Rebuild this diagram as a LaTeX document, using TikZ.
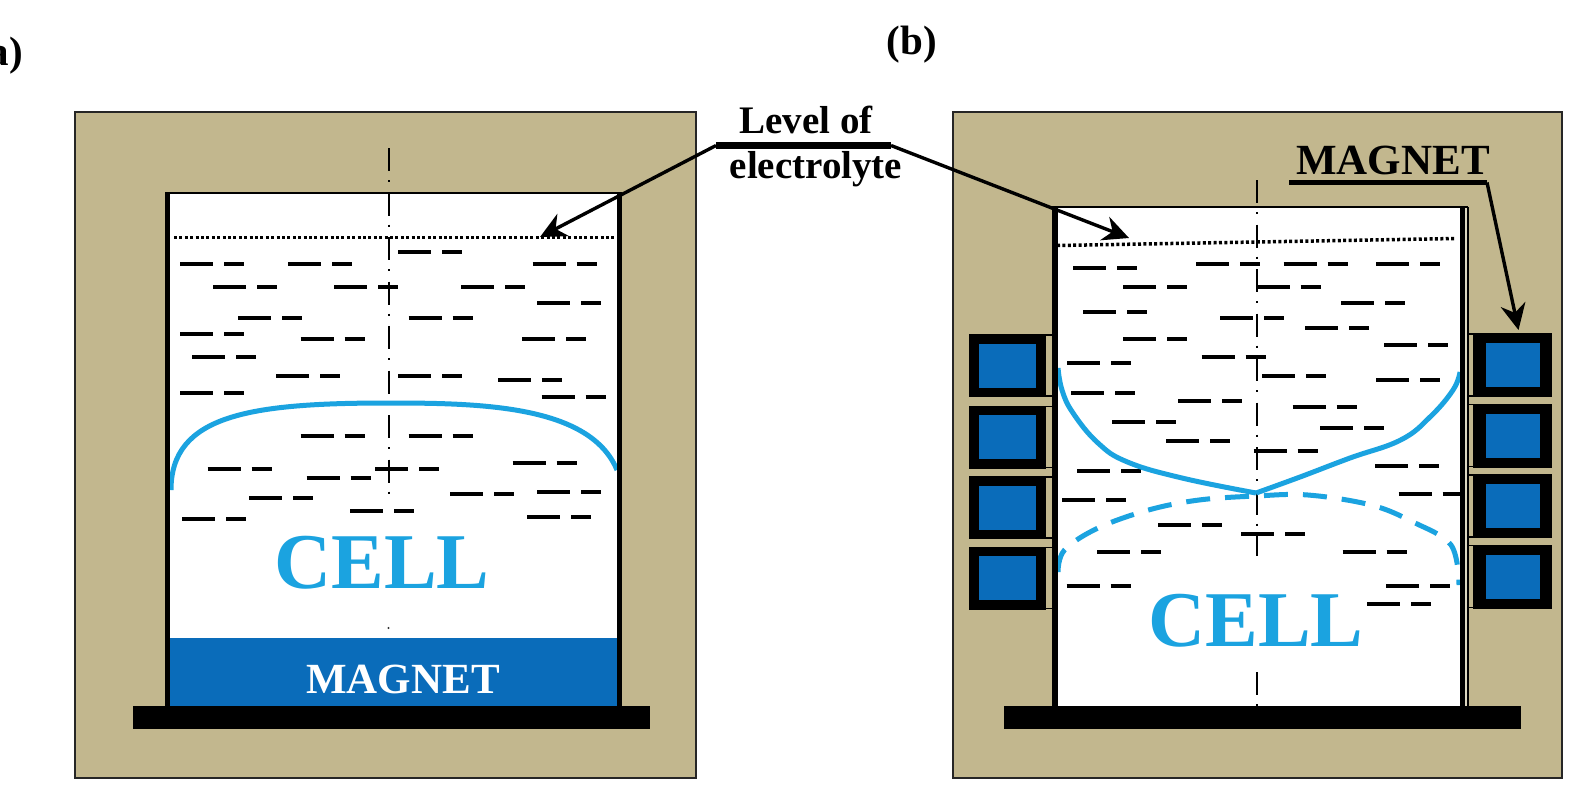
\documentclass[tikz,border=0pt]{standalone}
\usepackage{fontspec}
\setmainfont{Liberation Serif}
\usetikzlibrary{arrows.meta}
\definecolor{walltan}{RGB}{194,183,142}
\definecolor{magnetblue}{RGB}{10,108,186}
\definecolor{cellcyan}{RGB}{27,163,224}
\tikzset{
	bigword/.style={inner sep=0, anchor=base, font=\fontsize{79}{79}\selectfont\bfseries, text=cellcyan},
	magword/.style={inner sep=0, anchor=base, font=\fontsize{43}{43}\selectfont\bfseries},
	smallword/.style={inner sep=0, anchor=base, font=\fontsize{39}{39}\selectfont\bfseries},
	panelword/.style={inner sep=0, anchor=base, font=\fontsize{41}{41}\selectfont\bfseries},
	housing/.style={fill=walltan, draw=black!85, line width=1.5},
	levelline/.style={line width=3.5, dash pattern=on 3 off 2.4},
	axisline/.style={line width=2, dash pattern=on 23 off 9 on 2 off 10.5},
	fluidmark/.style={line width=3.6, dash pattern=on 33 off 11 on 20},
	meniscus/.style={cellcyan, line width=5},
	pointer/.style={line width=3.4, -{Stealth[length=26, width=25]}},
}
\begin{document}
\begin{tikzpicture}[x=1pt, y=-1pt]
\useasboundingbox (0,0) rectangle (1589,788);

% panel a
\filldraw[housing] (75,112) rectangle (696,778);
\fill[white] (168,193) rectangle (619,706);
\draw[axisline] (388.5,148) -- (388.5,496);
\fill[black!80] (388.5,628) circle (1.2);
\draw[levelline] (174,237.5) -- (615,237.5);
\foreach \x/\y in {398/252, 180/264, 288/264, 532.6/264, 213/287, 334/287, 461/287, 537/303,
	238/318, 408.5/318, 180/334, 300.5/339, 522/339, 192.4/357, 276/376, 398/376, 498/380,
	180/393, 541.5/397, 300.5/436, 408.5/436, 207.6/469, 375/469, 306.7/477.7, 512.5/463,
	450/494, 537/492, 249/498, 350.4/510.7, 182/519, 527/517}{
	\draw[fluidmark] (\x,\y) -- +(64,0);
}
\draw[meniscus] (171,490) .. controls (171,415) and (250,403) .. (388,403) .. controls (480,403) and (590,405) .. (617,470);
\fill[magnetblue] (168,638) rectangle (619,706);
\draw[line width=2] (165,193) -- (622,193);
\fill[black] (165,192) rectangle (170,706);
\fill[black] (617,192) rectangle (622,706);
\fill[black] (133,706) rectangle (650,729);
\node[bigword] (cellA) at (382,588) {CELL};
\node[magword, text=white] (magnetA) at (403,693) {MAGNET};

% panel b
\filldraw[housing] (953,112) rectangle (1562,778);
\fill[white] (1054,207) rectangle (1462,706);
\fill[walltan!55!white] (1465,207) rectangle (1468,706);
\draw[axisline] (1256.5,180) -- (1256.5,556);
\draw[axisline] (1256.5,672) -- (1256.5,706);
\draw[levelline] (1057,245.5) -- (1455.5,238.5);
\foreach \x/\y in {1073/268, 1196/264, 1283.5/264, 1376/264, 1123/287, 1256.5/287, 1341/303,
	1083/312, 1220/318, 1305/328, 1123/339, 1384/345, 1067/363, 1201.5/357, 1262/376, 1376/380,
	1071/393, 1178/401, 1292.6/407, 1112/422, 1320/428, 1166/441, 1253.5/451, 1375/466, 1077/471,
	1398.5/494, 1062/500, 1158/525, 1241/534, 1097/552, 1342.6/552, 1066.5/586, 1386/586, 1367/604}{
	\draw[fluidmark] (\x,\y) -- +(64,0);
}
\draw[meniscus] plot[smooth, tension=0.7] coordinates {(1058,368) (1062,390) (1073,413) (1098,443) (1127.5,462) (1182,478) (1256,493)};
\draw[meniscus] plot[smooth, tension=0.7] coordinates {(1256,493) (1300,477) (1350,458) (1400.6,440) (1430,417) (1453,390) (1460,372)};
\draw[meniscus, dash pattern=on 24 off 15] plot[smooth, tension=0.6] coordinates {(1058,572) (1064.5,550) (1098,528) (1148.5,510) (1199,500) (1256,496) (1308,495) (1371,505) (1413,522) (1451,545) (1459,585)};
\draw[line width=2] (1052,207) -- (1468,207);
\fill[black] (1052,206) rectangle (1058,706);
\fill[black] (1460,208) rectangle (1465,706);
\draw[line width=1.2] (1468,207) -- (1468,706);
\fill[black] (1004,706) rectangle (1521,729);
\foreach \y in {334, 405.5, 476, 546.5}{
	\fill[black] (969,\y) rectangle +(77,63);
	\fill[magnetblue] (979,\y+9.5) rectangle +(57,44);
	\draw[line width=1.8] (1045,\y+1) -- (1053,\y+1);
	\draw[line width=1.8] (1045,\y+62) -- (1053,\y+62);
}
\foreach \y in {333, 403.5, 474, 544.5}{
	\fill[black] (1473,\y) rectangle +(79,64);
	\fill[magnetblue] (1485.5,\y+10) rectangle +(54,44);
	\draw[line width=1.8] (1467,\y+1) -- (1474,\y+1);
	\draw[line width=1.8] (1467,\y+63) -- (1474,\y+63);
}
\node[bigword] (cellB) at (1256,646.5) {CELL};
\node[magword] (magnetB) at (1393,174) {MAGNET};

% labels and pointers
\node[panelword, anchor=base east] (labelA) at (23,65) {(a)};
\node[panelword] (labelB) at (912,54) {(b)};
\node[smallword] (levelOf) at (806,133) {Level of};
\node[smallword] (electrolyte) at (816,178) {electrolyte};
\coordinate (barL) at (716,145.5);
\coordinate (barR) at (891,145.5);
\coordinate (levelA) at (540,237);
\coordinate (levelB) at (1129,238);
\coordinate (magBarL) at (1289,182.5);
\coordinate (magBarR) at (1487,182.5);
\coordinate (magTop) at (1518.5,330);
\draw[line width=7] (barL) -- (barR);
\draw[pointer] (barL) -- (levelA);
\draw[pointer] (barR) -- (levelB);
\draw[line width=4.5] (magBarL) -- (magBarR);
\draw[pointer] (magBarR) -- (magTop);
\end{tikzpicture}
\end{document}
